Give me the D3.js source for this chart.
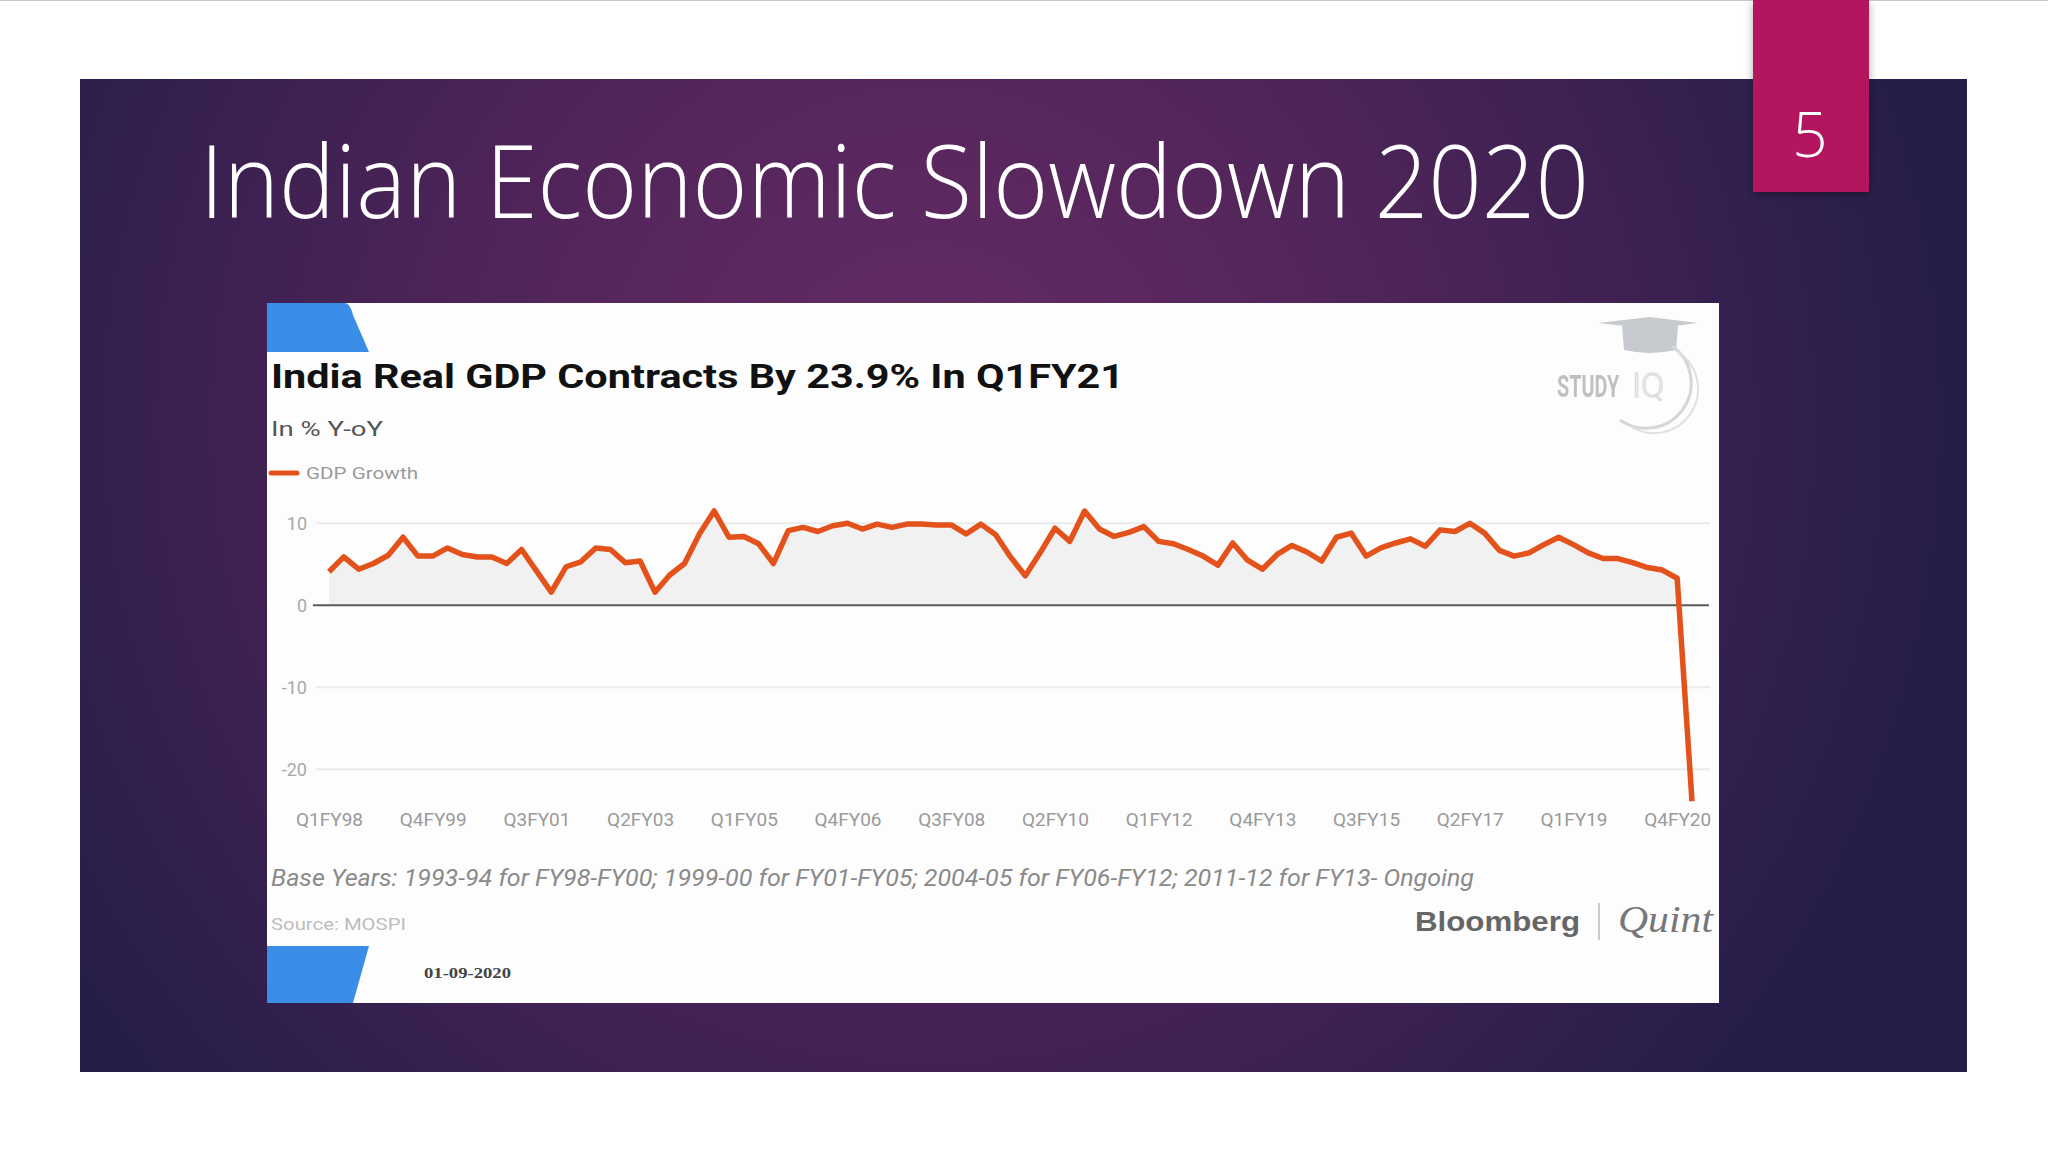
<!DOCTYPE html>
<html>
<head>
<meta charset="utf-8">
<script src="https://cdn.jsdelivr.net/npm/d3@7"></script>
<style>
  body { margin: 0; background: #ffffff; }
  #slide { width: 2048px; height: 1152px; }
  .tick text { font-family: Roboto, sans-serif; }
</style>
</head>
<body>
<div id="slide"></div>
<script>

// quarters Q1FY98 .. Q1FY21
var quarters = [
  "Q1FY98","Q2FY98","Q3FY98","Q4FY98","Q1FY99","Q2FY99","Q3FY99","Q4FY99",
  "Q1FY00","Q2FY00","Q3FY00","Q4FY00","Q1FY01","Q2FY01","Q3FY01","Q4FY01",
  "Q1FY02","Q2FY02","Q3FY02","Q4FY02","Q1FY03","Q2FY03","Q3FY03","Q4FY03",
  "Q1FY04","Q2FY04","Q3FY04","Q4FY04","Q1FY05","Q2FY05","Q3FY05","Q4FY05",
  "Q1FY06","Q2FY06","Q3FY06","Q4FY06","Q1FY07","Q2FY07","Q3FY07","Q4FY07",
  "Q1FY08","Q2FY08","Q3FY08","Q4FY08","Q1FY09","Q2FY09","Q3FY09","Q4FY09",
  "Q1FY10","Q2FY10","Q3FY10","Q4FY10","Q1FY11","Q2FY11","Q3FY11","Q4FY11",
  "Q1FY12","Q2FY12","Q3FY12","Q4FY12","Q1FY13","Q2FY13","Q3FY13","Q4FY13",
  "Q1FY14","Q2FY14","Q3FY14","Q4FY14","Q1FY15","Q2FY15","Q3FY15","Q4FY15",
  "Q1FY16","Q2FY16","Q3FY16","Q4FY16","Q1FY17","Q2FY17","Q3FY17","Q4FY17",
  "Q1FY18","Q2FY18","Q3FY18","Q4FY18","Q1FY19","Q2FY19","Q3FY19","Q4FY19",
  "Q1FY20","Q2FY20","Q3FY20","Q4FY20","Q1FY21"
];

// GDP growth, % y-o-y
var gdpGrowth = [
  4.1, 5.9, 4.4, 5.1, 6.1, 8.3, 6.0, 6.0,
  7.0, 6.2, 5.9, 5.9, 5.1, 6.8, 4.2, 1.6,
  4.7, 5.3, 7.0, 6.8, 5.2, 5.4, 1.6, 3.7,
  5.1, 8.7, 11.5, 8.3, 8.4, 7.5, 5.1, 9.1,
  9.5, 9.0, 9.7, 10.0, 9.3, 9.9, 9.5, 9.9,
  9.9, 9.8, 9.8, 8.7, 9.9, 8.6, 5.9, 3.6,
  6.4, 9.4, 7.8, 11.5, 9.3, 8.4, 8.9, 9.6,
  7.8, 7.5, 6.8, 6.0, 4.9, 7.6, 5.5, 4.4,
  6.2, 7.3, 6.5, 5.4, 8.3, 8.8, 6.0, 7.0,
  7.6, 8.1, 7.2, 9.2, 9.0, 10.0, 8.8, 6.7,
  6.0, 6.4, 7.4, 8.3, 7.4, 6.4, 5.7, 5.7,
  5.2, 4.6, 4.3, 3.3, -23.9
];

var xTickLabels = ["Q1FY98","Q4FY99","Q3FY01","Q2FY03","Q1FY05","Q4FY06","Q3FY08",
  "Q2FY10","Q1FY12","Q4FY13","Q3FY15","Q2FY17","Q1FY19","Q4FY20"];
var yTickValues = [10, 0, -10, -20];

var width = 2048;
var height = 1152;

var svg = d3.select("#slide")
  .append("svg")
  .attr("width", width)
  .attr("height", height);

var defs = svg.append("defs");

var bgGrad = defs.append("radialGradient")
  .attr("id", "bgGrad")
  .attr("gradientUnits", "userSpaceOnUse")
  .attr("cx", 930).attr("cy", 420).attr("r", 1050);
bgGrad.append("stop").attr("offset", "0").attr("stop-color", "#672b66");
bgGrad.append("stop").attr("offset", "0.45").attr("stop-color", "#4f2459");
bgGrad.append("stop").attr("offset", "1").attr("stop-color", "#231d47");

var shadow = defs.append("filter").attr("id", "shadow")
  .attr("x", "-20%").attr("y", "-20%").attr("width", "140%").attr("height", "140%");
shadow.append("feDropShadow").attr("dx", 0).attr("dy", 3).attr("stdDeviation", 4)
  .attr("flood-color", "#000").attr("flood-opacity", 0.35);

var margin = {top: 523.3, bottom: 769.3, left: 316, right: 1710};

// keep the shading above the zero line
defs.append("clipPath").attr("id", "posClip")
  .append("rect")
    .attr("x", margin.left).attr("y", 480)
    .attr("width", margin.right - margin.left)
    .attr("height", 605.3 - 480);

// slide frame
svg.append("rect").attr("x", 0).attr("y", 0).attr("width", width).attr("height", height).attr("fill", "#fff");
svg.append("line").attr("x1", 0).attr("x2", width).attr("y1", 0.5).attr("y2", 0.5)
  .attr("stroke", "#c8c8c8").attr("stroke-width", 1);

svg.append("rect")
  .attr("x", 80).attr("y", 79)
  .attr("width", 1887).attr("height", 993)
  .attr("fill", "url(#bgGrad)");

svg.append("rect")
  .attr("x", 1753).attr("y", 0)
  .attr("width", 116).attr("height", 192)
  .attr("fill", "#b3135f")
  .attr("filter", "url(#shadow)");

svg.append("text")
  .attr("x", 1810).attr("y", 157)
  .attr("text-anchor", "middle")
  .attr("font-family", "'Open Sans', sans-serif")
  .attr("font-weight", 300)
  .attr("font-size", 62)
  .attr("fill", "#fff")
  .text("5");

svg.append("text")
  .attr("x", 200).attr("y", 218)
  .attr("font-family", "'Open Sans', sans-serif")
  .attr("font-weight", 300)
  .attr("font-size", 102)
  .attr("textLength", 1389)
  .attr("lengthAdjust", "spacingAndGlyphs")
  .attr("fill", "#fff")
  .text("Indian Economic Slowdown 2020");

// chart image panel
var panel = {left: 267, top: 303, right: 1719, bottom: 1003};

svg.append("rect")
  .attr("x", panel.left).attr("y", panel.top)
  .attr("width", panel.right - panel.left)
  .attr("height", panel.bottom - panel.top)
  .attr("fill", "#fdfdfd");

svg.append("path")
  .attr("d", "M267,303 L345,303 Q350,303 353,315 L369,352 L267,352 Z")
  .attr("fill", "#3a8ee8");
svg.append("path")
  .attr("d", "M267,946 L369,946 L353,1003 L267,1003 Z")
  .attr("fill", "#3a8ee8");

// study iq watermark
var logo = svg.append("g").attr("opacity", 0.55);
logo.append("path")
  .attr("d", "M1598,323 L1650,317 L1698,323 L1652,329 Z")
  .attr("fill", "#9aa0a8");
logo.append("path")
  .attr("d", "M1622,326 L1678,326 L1676,350 Q1650,356 1624,350 Z")
  .attr("fill", "#9aa0a8");
logo.append("path")
  .attr("d", "M1672,346 A42,42 0 1 1 1620,420")
  .attr("fill", "none").attr("stroke", "#b5b8bc").attr("stroke-width", 3);
logo.append("path")
  .attr("d", "M1678,352 A40,40 0 1 1 1630,426")
  .attr("fill", "none").attr("stroke", "#c5c8cc").attr("stroke-width", 2);
logo.append("text")
  .attr("transform", "translate(1557,397) scale(0.62,1)")
  .attr("font-family", "Roboto, sans-serif")
  .attr("font-weight", 700)
  .attr("font-size", 32)
  .attr("fill", "#8c9096")
  .text("STUDY");
logo.append("text")
  .attr("x", 1632).attr("y", 397)
  .attr("font-family", "Roboto, sans-serif")
  .attr("font-weight", 300)
  .attr("font-size", 34)
  .attr("fill", "none")
  .attr("stroke", "#c0c4c8")
  .attr("stroke-width", 1.5)
  .text("IQ");

// chart titles
svg.append("text")
  .attr("x", 271).attr("y", 388)
  .attr("font-family", "Roboto, sans-serif")
  .attr("font-weight", 700)
  .attr("font-size", 33)
  .attr("textLength", 853)
  .attr("lengthAdjust", "spacingAndGlyphs")
  .attr("fill", "#111")
  .text("India Real GDP Contracts By 23.9% In Q1FY21");

svg.append("text")
  .attr("x", 271).attr("y", 436)
  .attr("font-family", "Roboto, sans-serif")
  .attr("font-size", 21)
  .attr("textLength", 112)
  .attr("lengthAdjust", "spacingAndGlyphs")
  .attr("fill", "#555")
  .text("In % Y-oY");

svg.append("line")
  .attr("x1", 271).attr("x2", 297).attr("y1", 473).attr("y2", 473)
  .attr("stroke", "#e4521b").attr("stroke-width", 5).attr("stroke-linecap", "round");
svg.append("text")
  .attr("x", 306).attr("y", 479)
  .attr("font-family", "Roboto, sans-serif")
  .attr("font-size", 17)
  .attr("textLength", 112)
  .attr("lengthAdjust", "spacingAndGlyphs")
  .attr("fill", "#9a9a9a")
  .text("GDP Growth");

// scales
var xScale = d3.scalePoint()
  .domain(quarters)
  .range([329, 1692]);

var yScale = d3.scaleLinear()
  .domain([-20, 10])
  .range([margin.bottom, margin.top]);

var data = quarters.map(function(q, i) { return {q: q, v: gdpGrowth[i]}; });

// gridlines
svg.selectAll(".grid")
  .data(yTickValues.filter(function(d) { return d !== 0; }))
  .enter()
  .append("line")
    .attr("class", "grid")
    .attr("x1", margin.left).attr("x2", margin.right)
    .attr("y1", function(d) { return yScale(d); })
    .attr("y2", function(d) { return yScale(d); })
    .attr("stroke", "#ebebeb")
    .attr("stroke-width", 2);

// shaded area under the line
var area = d3.area()
  .x(function(d) { return xScale(d.q); })
  .y0(yScale(0))
  .y1(function(d) { return yScale(d.v); });

svg.append("path")
  .datum(data)
  .attr("d", area)
  .attr("clip-path", "url(#posClip)")
  .attr("fill", "#f1f1f1");

svg.append("line")
  .attr("x1", 313).attr("x2", 1709)
  .attr("y1", yScale(0)).attr("y2", yScale(0))
  .attr("stroke", "#5a5a5a")
  .attr("stroke-width", 2);

// axes
var yAxis = svg.append("g")
  .attr("transform", "translate(307,0)")
  .call(d3.axisLeft(yScale)
    .tickValues(yTickValues)
    .tickSize(0)
    .tickPadding(0)
    .tickFormat(function(d) { return String(d); }));
yAxis.select(".domain").remove();
yAxis.selectAll("text")
  .attr("font-size", 18)
  .attr("fill", "#a8a8a8");

var xAxis = svg.append("g")
  .attr("transform", "translate(0,812)")
  .call(d3.axisBottom(xScale)
    .tickValues(xTickLabels)
    .tickSize(0)
    .tickPadding(0));
xAxis.select(".domain").remove();
xAxis.selectAll("text")
  .attr("font-size", 19)
  .attr("fill", "#9a9a9a");

// gdp line
var line = d3.line()
  .x(function(d) { return xScale(d.q); })
  .y(function(d) { return yScale(d.v); });

svg.append("path")
  .datum(data)
  .attr("d", line)
  .attr("fill", "none")
  .attr("stroke", "#e4521b")
  .attr("stroke-width", 5.5)
  .attr("stroke-linejoin", "round");

// footer
svg.append("text")
  .attr("x", 271).attr("y", 886)
  .attr("font-family", "Roboto, sans-serif")
  .attr("font-style", "italic")
  .attr("font-size", 23)
  .attr("textLength", 1203)
  .attr("lengthAdjust", "spacingAndGlyphs")
  .attr("fill", "#8a8a8a")
  .text("Base Years: 1993-94 for FY98-FY00; 1999-00 for FY01-FY05; 2004-05 for FY06-FY12; 2011-12 for FY13- Ongoing");

svg.append("text")
  .attr("x", 271).attr("y", 930)
  .attr("font-family", "Roboto, sans-serif")
  .attr("font-size", 17)
  .attr("textLength", 135)
  .attr("lengthAdjust", "spacingAndGlyphs")
  .attr("fill", "#bdbdbd")
  .text("Source: MOSPI");

svg.append("text")
  .attr("x", 1415).attr("y", 931)
  .attr("font-family", "'Liberation Sans', Arial, sans-serif")
  .attr("font-weight", 700)
  .attr("font-size", 28)
  .attr("textLength", 165)
  .attr("lengthAdjust", "spacingAndGlyphs")
  .attr("fill", "#666")
  .text("Bloomberg");
svg.append("line")
  .attr("x1", 1599).attr("x2", 1599).attr("y1", 903).attr("y2", 940)
  .attr("stroke", "#bbb").attr("stroke-width", 1.5);
svg.append("text")
  .attr("x", 1618).attr("y", 932)
  .attr("font-family", "'Liberation Serif', 'DejaVu Serif', serif")
  .attr("font-style", "italic")
  .attr("font-size", 38)
  .attr("textLength", 95)
  .attr("lengthAdjust", "spacingAndGlyphs")
  .attr("fill", "#777")
  .text("Quint");

svg.append("text")
  .attr("x", 424).attr("y", 978)
  .attr("font-family", "'Liberation Serif', serif")
  .attr("font-weight", 700)
  .attr("font-size", 14)
  .attr("textLength", 87)
  .attr("lengthAdjust", "spacingAndGlyphs")
  .attr("fill", "#444")
  .text("01-09-2020");

</script>
</body>
</html>
